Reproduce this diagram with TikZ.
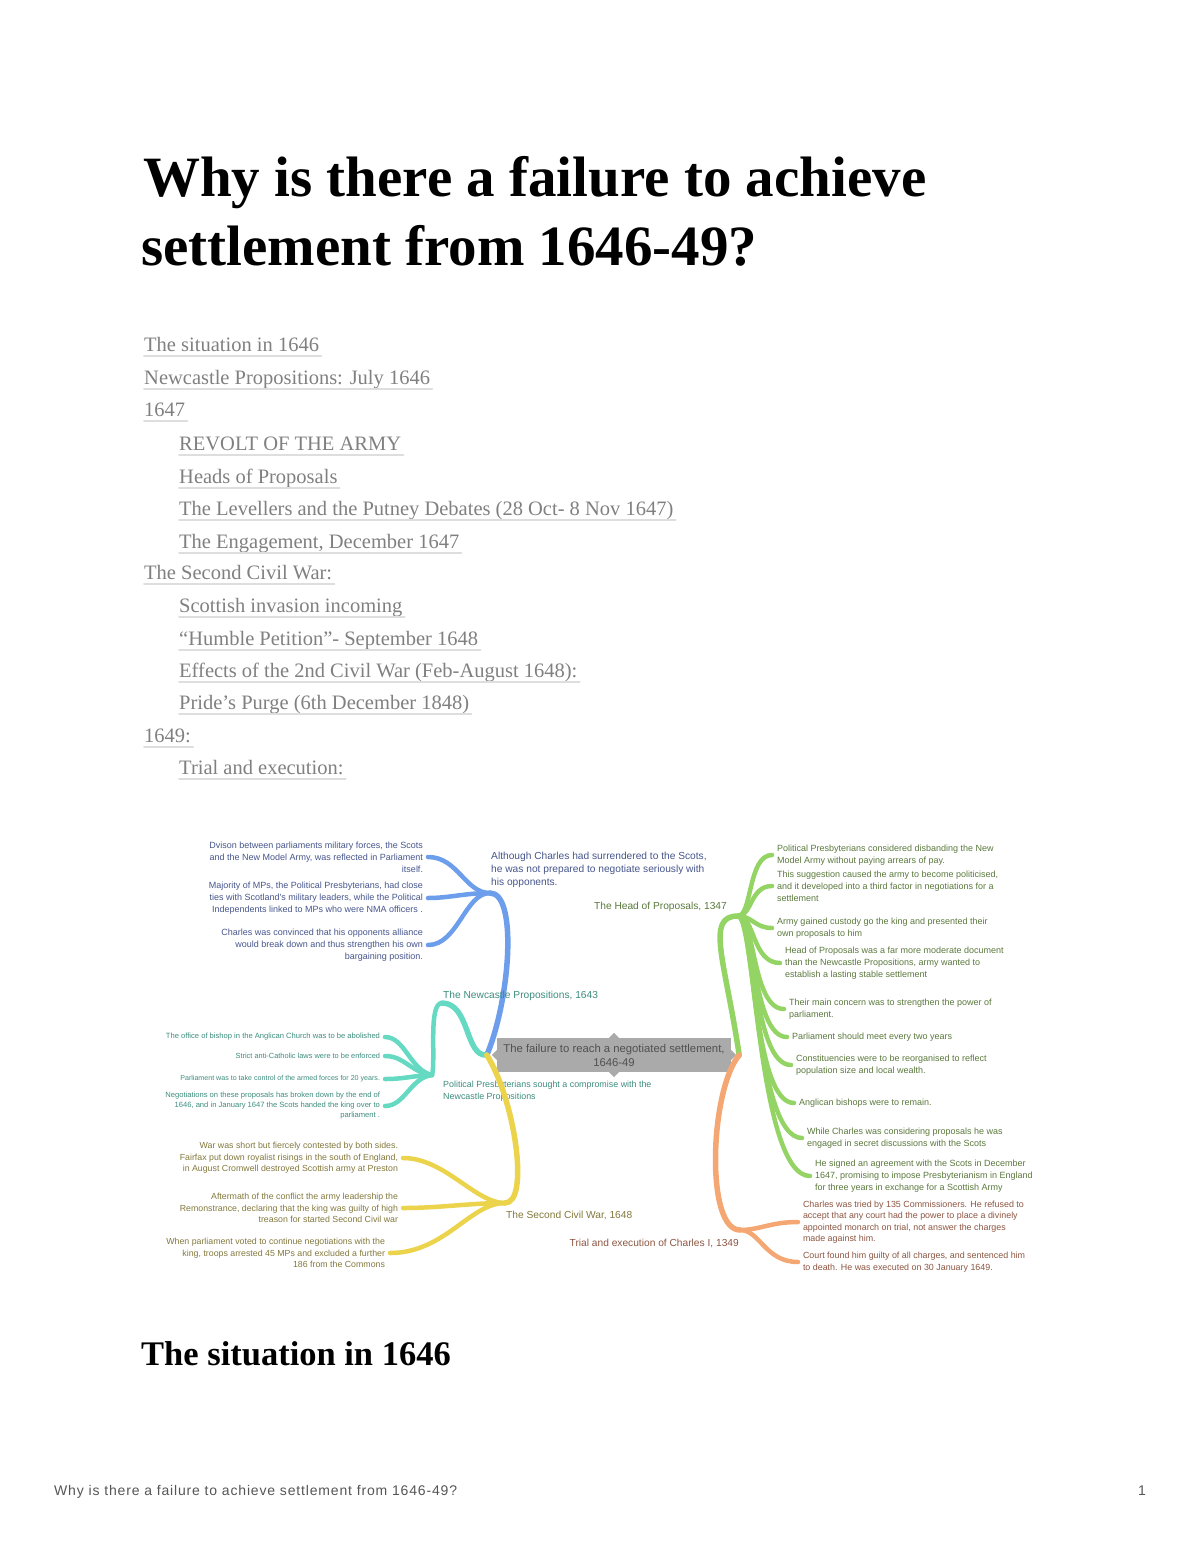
\documentclass[tikz,border=0pt]{standalone}
\usepackage{fontspec}
\setmainfont{Liberation Serif}
\newfontfamily\mapfont{Liberation Sans}
\newfontfamily\footfont[LetterSpace=6]{Liberation Sans}
\definecolor{tocgray}{RGB}{128,128,128}
\definecolor{tocrule}{RGB}{222,222,222}
\definecolor{footgray}{RGB}{85,85,85}
\definecolor{rootgray}{RGB}{170,170,170}
\definecolor{roottext}{RGB}{80,80,80}
\definecolor{bluebranch}{RGB}{109,158,235}
\definecolor{tealbranch}{RGB}{102,217,194}
\definecolor{yellowbranch}{RGB}{235,211,75}
\definecolor{greenbranch}{RGB}{147,212,101}
\definecolor{orangebranch}{RGB}{244,167,114}
\definecolor{bluetext}{RGB}{70,85,140}
\definecolor{tealtext}{RGB}{60,140,125}
\definecolor{yellowtext}{RGB}{130,120,60}
\definecolor{greentext}{RGB}{90,120,60}
\definecolor{orangetext}{RGB}{140,85,65}
\begin{document}
\begin{tikzpicture}[x=1pt, y=-1pt, line join=round, line cap=round,
  toc/.style={anchor=base west, inner sep=0pt, font=\fontsize{20.5}{24}\selectfont, text=tocgray},
  tocline/.style={draw=tocrule, line width=2pt},
  mapleaf/.style={font=\mapfont\fontsize{9}{12}\selectfont, inner ysep=0pt, inner xsep=0pt, outer xsep=5pt},
  leftleaf/.style={mapleaf, anchor=east, align=right},
  rightleaf/.style={mapleaf, anchor=west, align=left},
  topic/.style={font=\mapfont\fontsize{10.2}{13}\selectfont, inner sep=0pt},
  branch/.style={line width=4.5pt},
  trunk/.style={line width=5.5pt}]
\useasboundingbox (0,0) rectangle (1200,1553);
\node[anchor=base west, inner sep=0pt, font=\bfseries\fontsize{57}{69}\selectfont] (title1) at (143,196) {Why is there a failure to achieve};
\node[anchor=base west, inner sep=0pt, font=\bfseries\fontsize{57}{69}\selectfont] (title2) at (141,265) {settlement from 1646-49?};
\foreach \i/\xx/\yy/\txt in {1/144/351/{The situation in 1646}, 2/144/384/{Newcastle Propositions: July 1646}, 3/144/416/{1647}, 4/179/450/{REVOLT OF THE ARMY}, 5/179/483/{Heads of Proposals}, 6/179/515/{The Levellers and the Putney Debates (28 Oct- 8 Nov 1647)}, 7/179/548/{The Engagement, December 1647}, 8/144/579/{The Second Civil War:}, 9/179/612/{Scottish invasion incoming}, 10/179/645/{“Humble Petition”- September 1648}, 11/179/677/{Effects of the 2nd Civil War (Feb-August 1648):}, 12/179/709/{Pride’s Purge (6th December 1848)}, 13/144/742/{1649:}, 14/179/774/{Trial and execution:}}{
  \node[toc] (toc\i) at (\xx,\yy) {\txt};
  \draw[tocline] ([yshift=-5pt]toc\i.base west) -- ([yshift=-5pt,xshift=2pt]toc\i.base east);
}
\node[fill=rootgray, text=roottext, font=\mapfont\fontsize{11.3}{14}\selectfont, align=center, minimum width=234pt, minimum height=34pt, inner sep=0pt] (root) at (614,1055) {The failure to reach a negotiated settlement,\\1646-49};
\fill[rootgray] ([xshift=-5pt]root.north) -- ([yshift=5pt]root.north) -- ([xshift=5pt]root.north) -- cycle;
\fill[rootgray] ([xshift=-5pt]root.south) -- ([yshift=-5pt]root.south) -- ([xshift=5pt]root.south) -- cycle;
\fill[rootgray] ([yshift=-5pt]root.west) -- ([xshift=-5pt]root.west) -- ([yshift=5pt]root.west) -- cycle;
\fill[rootgray] ([yshift=-5pt]root.east) -- ([xshift=5pt]root.east) -- ([yshift=5pt]root.east) -- cycle;
\coordinate (rootL) at ([xshift=-10pt]root.west);
\coordinate (rootR) at ([xshift=8pt]root.east);
\coordinate (blueHub) at (490,893);
\coordinate (tealHub) at (442,1003);
\coordinate (tealJoin) at (432,1075);
\coordinate (yellowHub) at (505,1203);
\coordinate (greenHub) at (738,916);
\coordinate (orangeHub) at (740,1230);
\node[topic, anchor=south west, align=left, text=bluetext] (bluetopic) at (491,888) {Although Charles had surrendered to the Scots,\\he was not prepared to negotiate seriously with\\his opponents.};
\node[leftleaf, text=bluetext] (b1) at (428,857) {Dvison between parliaments military forces, the Scots\\and the New Model Army, was reflected in Parliament\\itself.};
\node[leftleaf, text=bluetext] (b2) at (428,898) {Majority of MPs, the Political Presbyterians, had close\\ties with Scotland's military leaders, while the Political\\Independents linked to MPs who were NMA officers .};
\node[leftleaf, text=bluetext] (b3) at (428,945) {Charles was convinced that his opponents alliance\\would break down and thus strengthen his own\\bargaining position.};
\draw[bluebranch, trunk] (rootL) .. controls (510,1000) and (518,893) .. (blueHub);
\draw[bluebranch, branch] (blueHub) .. controls (465,893) and (458,857) .. (b1.east);
\draw[bluebranch, branch] (blueHub) .. controls (465,893) and (450,898) .. (b2.east);
\draw[bluebranch, branch] (blueHub) .. controls (465,893) and (458,945) .. (b3.east);
\node[topic, anchor=base west, text=tealtext] (tealtopic) at (443,998) {The Newcastle Propositions, 1643};
\node[topic, anchor=north west, align=left, text=tealtext, font=\mapfont\fontsize{8.9}{12}\selectfont] (tealnote) at (443,1081) {Political Presbyterians sought a compromise with the\\Newcastle Propositions};
\node[leftleaf, text=tealtext, font=\mapfont\fontsize{7.6}{10}\selectfont] (t1) at (385,1037) {The office of bishop in the Anglican Church was to be abolished};
\node[leftleaf, text=tealtext, font=\mapfont\fontsize{7.4}{10}\selectfont] (t2) at (385,1056) {Strict anti-Catholic laws were to be enforced};
\node[leftleaf, text=tealtext, font=\mapfont\fontsize{7.1}{10}\selectfont] (t3) at (385,1079) {Parliament was to take control of the armed forces for 20 years.};
\node[leftleaf, text=tealtext, font=\mapfont\fontsize{7.6}{10}\selectfont] (t4) at (385,1106) {Negotiations on these proposals has broken down by the end of\\1646, and in January 1647 the Scots handed the king over to\\parliament .};
\draw[tealbranch, trunk] (rootL) .. controls (465,1057) and (470,1003) .. (tealHub);
\draw[tealbranch, branch] (tealHub) .. controls (428,1003) and (436,1060) .. (tealJoin);
\draw[tealbranch, branch] (tealJoin) .. controls (410,1070) and (405,1037) .. (t1.east);
\draw[tealbranch, branch] (tealJoin) .. controls (410,1072) and (405,1056) .. (t2.east);
\draw[tealbranch, branch] (tealJoin) .. controls (410,1076) and (405,1079) .. (t3.east);
\draw[tealbranch, branch] (tealJoin) .. controls (410,1078) and (405,1106) .. (t4.east);
\node[topic, anchor=base west, text=yellowtext] (yellowtopic) at (506,1218) {The Second Civil War, 1648};
\node[leftleaf, text=yellowtext, font=\mapfont\fontsize{8.8}{11.5}\selectfont] (y1) at (403,1158) {War was short but fiercely contested by both sides.\\Fairfax put down royalist risings in the south of England,\\in August Cromwell destroyed Scottish army at Preston};
\node[leftleaf, text=yellowtext, font=\mapfont\fontsize{8.8}{11.5}\selectfont] (y2) at (403,1208) {Aftermath of the conflict the army leadership the\\Remonstrance, declaring that the king was guilty of high\\treason for started Second Civil war};
\node[leftleaf, text=yellowtext, font=\mapfont\fontsize{8.8}{11.5}\selectfont] (y3) at (390,1253) {When parliament voted to continue negotiations with the\\king, troops arrested 45 MPs and excluded a further\\186 from the Commons};
\draw[yellowbranch, trunk] (rootL) .. controls (515,1100) and (530,1203) .. (yellowHub);
\draw[yellowbranch, branch] (yellowHub) .. controls (475,1203) and (445,1158) .. (y1.east);
\draw[yellowbranch, branch] (yellowHub) .. controls (470,1203) and (440,1208) .. (y2.east);
\draw[yellowbranch, branch] (yellowHub) .. controls (470,1203) and (445,1253) .. (y3.east);
\node[topic, anchor=base east, text=greentext] (greentopic) at (727,909) {The Head of Proposals, 1347};
\node[rightleaf, text=greentext] (g1) at (772,855) {Political Presbyterians considered disbanding the New\\Model Army without paying arrears of pay.};
\node[rightleaf, text=greentext] (g2) at (772,886) {This suggestion caused the army to become politicised,\\and it developed into a third factor in negotiations for a\\settlement};
\node[rightleaf, text=greentext] (g3) at (772,928) {Army gained custody go the king and presented their\\own proposals to him};
\node[rightleaf, text=greentext] (g4) at (780,963) {Head of Proposals was a far more moderate document\\than the Newcastle Propositions, army wanted to\\establish a lasting stable settlement};
\node[rightleaf, text=greentext] (g5) at (784,1009) {Their main concern was to strengthen the power of\\parliament.};
\node[rightleaf, text=greentext] (g6) at (787,1037) {Parliament should meet every two years};
\node[rightleaf, text=greentext] (g7) at (791,1065) {Constituencies were to be reorganised to reflect\\population size and local wealth.};
\node[rightleaf, text=greentext] (g8) at (794,1103) {Anglican bishops were to remain.};
\node[rightleaf, text=greentext] (g9) at (802,1138) {While Charles was considering proposals he was\\engaged in secret discussions with the Scots};
\node[rightleaf, text=greentext] (g10) at (810,1176) {He signed an agreement with the Scots in December\\1647, promising to impose Presbyterianism in England\\for three years in exchange for a Scottish Army};
\draw[greenbranch, trunk] (rootR) .. controls (725,960) and (705,916) .. (greenHub);
\draw[greenbranch, branch] (greenHub) .. controls (752,916) and (748,855) .. (g1.west);
\draw[greenbranch, branch] (greenHub) .. controls (752,916) and (750,886) .. (g2.west);
\draw[greenbranch, branch] (greenHub) .. controls (752,916) and (755,928) .. (g3.west);
\draw[greenbranch, branch] (greenHub) .. controls (755,916) and (752,963) .. (g4.west);
\draw[greenbranch, branch] (greenHub) .. controls (755,916) and (752,1009) .. (g5.west);
\draw[greenbranch, branch] (greenHub) .. controls (755,916) and (752,1037) .. (g6.west);
\draw[greenbranch, branch] (greenHub) .. controls (755,916) and (752,1065) .. (g7.west);
\draw[greenbranch, branch] (greenHub) .. controls (755,916) and (752,1103) .. (g8.west);
\draw[greenbranch, branch] (greenHub) .. controls (755,916) and (755,1138) .. (g9.west);
\draw[greenbranch, branch] (greenHub) .. controls (755,916) and (758,1176) .. (g10.west);
\node[topic, anchor=base east, text=orangetext] (orangetopic) at (739,1246) {Trial and execution of Charles I, 1349};
\node[rightleaf, text=orangetext, font=\mapfont\fontsize{8.9}{11.5}\selectfont] (o1) at (798,1222) {Charles was tried by 135 Commissioners. He refused to\\accept that any court had the power to place a divinely\\appointed monarch on trial, not answer the charges\\made against him.};
\node[rightleaf, text=orangetext, font=\mapfont\fontsize{8.9}{11.5}\selectfont] (o2) at (798,1262) {Court found him guilty of all charges, and sentenced him\\to death. He was executed on 30 January 1649.};
\draw[orangebranch, trunk] (rootR) .. controls (710,1090) and (705,1230) .. (orangeHub);
\draw[orangebranch, branch] (orangeHub) .. controls (760,1230) and (770,1222) .. (o1.west);
\draw[orangebranch, branch] (orangeHub) .. controls (760,1230) and (765,1262) .. (o2.west);
\node[anchor=base west, inner sep=0pt, font=\bfseries\fontsize{34.5}{40}\selectfont] (heading) at (141,1365) {The situation in 1646};
\node[anchor=base west, inner sep=0pt, font=\footfont\fontsize{14}{16}\selectfont, text=footgray] (footer) at (54,1495) {Why is there a failure to achieve settlement from 1646-49?};
\node[anchor=base east, inner sep=0pt, font=\footfont\fontsize{14}{16}\selectfont, text=footgray] (pageno) at (1146,1495) {1};
\end{tikzpicture}
\end{document}
